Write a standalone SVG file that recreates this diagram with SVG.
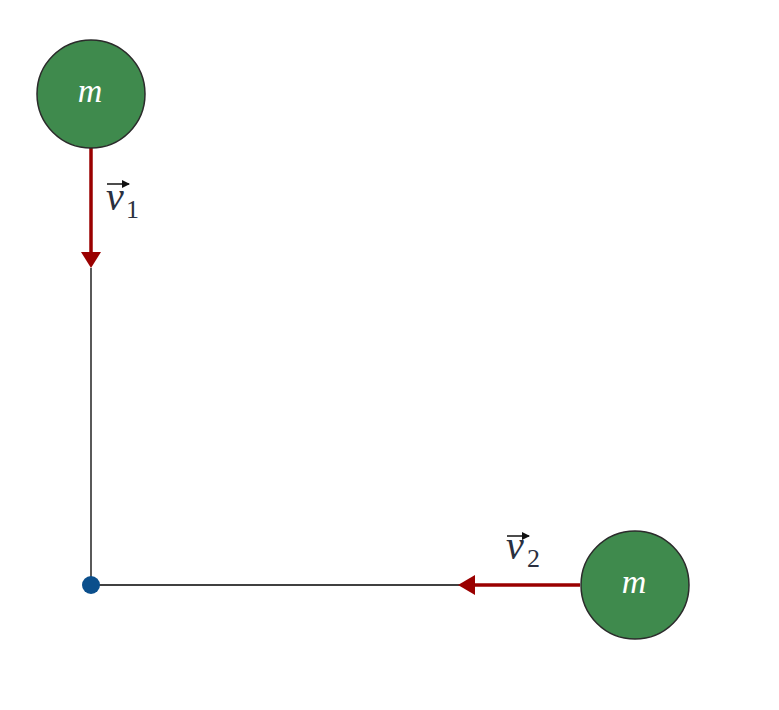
<svg xmlns="http://www.w3.org/2000/svg" width="779" height="710" viewBox="0 0 779 710">
<style>
.mass{fill:#3f8a4d;stroke:#2b2b2b;stroke-width:1.5}
.mlabel{font-family:"Liberation Serif",serif;font-style:italic;font-size:34px;fill:#ffffff;text-anchor:middle}
.vel{stroke:#9a0000;stroke-width:3.5;fill:none}
.path{stroke:#000000;stroke-width:1.3;fill:none}
.vlabel{font-family:"Liberation Serif",serif;font-style:italic;font-size:40px;fill:#2a3040}
.sub{font-family:"Liberation Serif",serif;font-size:26px;fill:#2a3040;font-style:normal}
.vec{stroke:#111111;stroke-width:1.5;fill:none}
</style>
<defs>
<marker id="vechead" markerWidth="8" markerHeight="8" refX="7" refY="4" orient="auto" markerUnits="userSpaceOnUse" viewBox="0 0 8 8">
<path d="M0,0 L8,4 L0,8 Z" fill="#111111"/>
</marker>
</defs>
<rect width="779" height="710" fill="#ffffff"/>
<g id="connectors">
<line class="path" x1="91" y1="268" x2="91" y2="585"/>
<line class="path" x1="91" y1="585" x2="460" y2="585"/>
<line class="vel" x1="91" y1="148" x2="91" y2="254"/>
<path d="M81,252 L101,252 L91,268 Z" fill="#9a0000"/>
<line class="vel" x1="580" y1="585" x2="473" y2="585"/>
<path d="M475,575 L475,595 L458,585 Z" fill="#9a0000"/>
</g>
<g id="mass1">
<circle class="mass" cx="91" cy="94" r="54"/>
<text class="mlabel" x="90" y="102">m</text>
</g>
<g id="mass2">
<circle class="mass" cx="635" cy="585" r="54"/>
<text class="mlabel" x="634" y="593">m</text>
</g>
<g id="pivot">
<circle cx="91" cy="585" r="9" fill="#0b4f8c"/>
</g>
<g id="label-v1">
<line class="vec" x1="107" y1="184" x2="129" y2="184" marker-end="url(#vechead)"/>
<text class="vlabel" x="106" y="210">v</text>
<text class="sub" x="126" y="218">1</text>
</g>
<g id="label-v2">
<line class="vec" x1="507" y1="536" x2="529" y2="536" marker-end="url(#vechead)"/>
<text class="vlabel" x="506" y="559">v</text>
<text class="sub" x="527" y="567">2</text>
</g>
</svg>
